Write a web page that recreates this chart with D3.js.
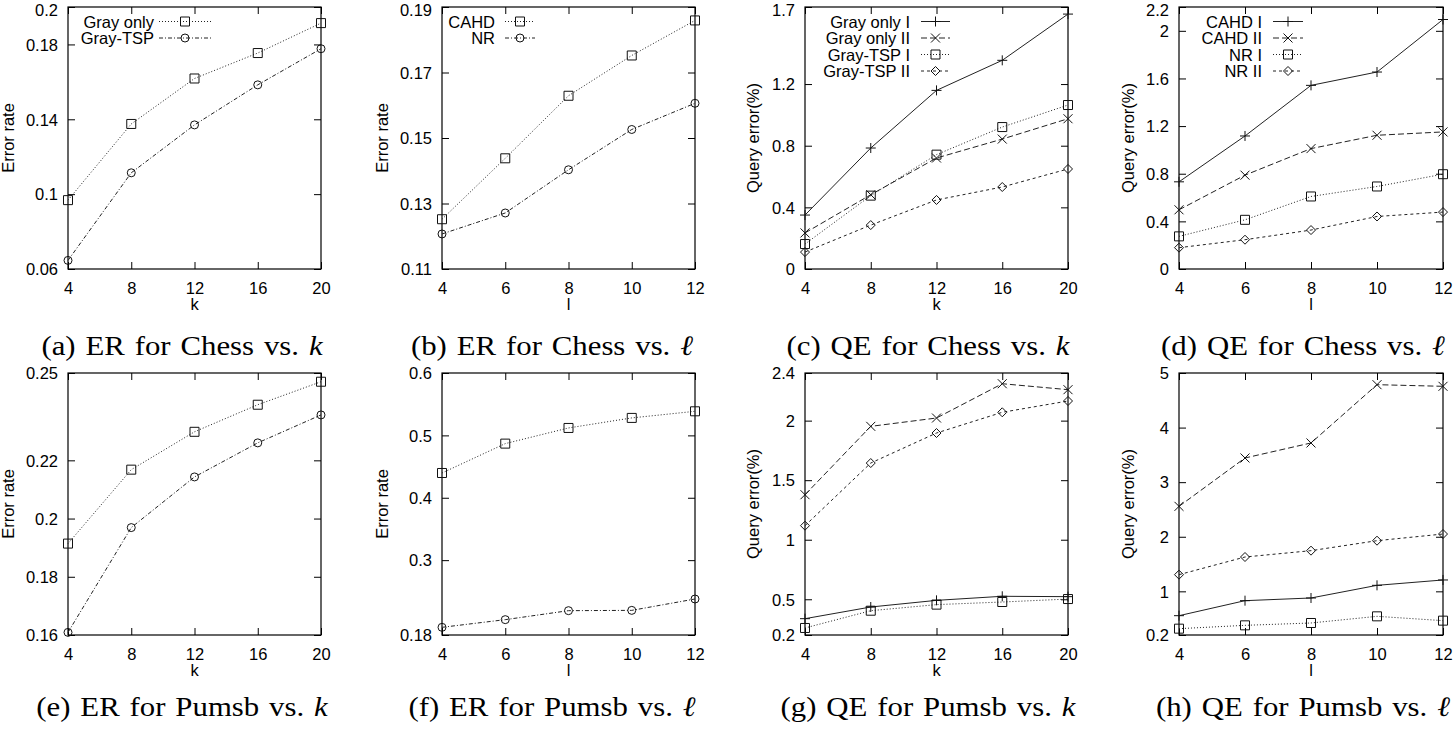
<!DOCTYPE html>
<html>
<head>
<meta charset="utf-8">
<script src="https://cdn.jsdelivr.net/npm/d3@7"></script>
<style>
	body { margin: 0; background: #fff; }
	svg { display: block; }
	.tick text, .lbl { font-family: "Liberation Sans", Arial, sans-serif; font-size: 16.5px; fill: #000; }
	.cap { font-family: "Liberation Serif", "Times New Roman", serif; font-size: 28px; word-spacing: 2px; fill: #000; }
</style>
</head>
<body>
<svg id="fig" width="1456" height="729"></svg>
<script>
'use strict';

// x values
var kValues = [4, 8, 12, 16, 20];
var lValues = [4, 6, 8, 10, 12];

// Chess: error rate
var chessErGrayOnly = [0.0968, 0.1375, 0.1618, 0.1754, 0.1914];
var chessErGrayTsp  = [0.0646, 0.1114, 0.1370, 0.1584, 0.1777];
var chessErCahd     = [0.1252, 0.1438, 0.1629, 0.1752, 0.1859];
var chessErNr       = [0.1207, 0.1271, 0.1403, 0.1526, 0.1606];

// Chess: query error (%)
var chessQeGrayOnlyI  = [0.350, 0.785, 1.159, 1.354, 1.654];
var chessQeGrayOnlyII = [0.234, 0.482, 0.720, 0.843, 0.975];
var chessQeGrayTspI   = [0.162, 0.476, 0.742, 0.921, 1.064];
var chessQeGrayTspII  = [0.110, 0.285, 0.448, 0.532, 0.649];
var chessQeCahdI      = [0.732, 1.117, 1.542, 1.654, 2.095];
var chessQeCahdII     = [0.497, 0.788, 1.011, 1.123, 1.151];
var chessQeNrI        = [0.274, 0.413, 0.609, 0.693, 0.796];
var chessQeNrII       = [0.179, 0.246, 0.327, 0.441, 0.478];

// Pumsb: error rate
var pumsbErGrayOnly = [0.1914, 0.2168, 0.2298, 0.2391, 0.2470];
var pumsbErGrayTsp  = [0.1609, 0.1969, 0.2143, 0.2260, 0.2356];
var pumsbErCahd     = [0.4397, 0.4868, 0.5119, 0.5280, 0.5386];
var pumsbErNr       = [0.1923, 0.2046, 0.2190, 0.2195, 0.2377];

// Pumsb: query error (%)
var pumsbQeGrayOnlyI  = [0.337, 0.435, 0.491, 0.525, 0.522];
var pumsbQeGrayOnlyII = [1.378, 1.952, 2.022, 2.310, 2.260];
var pumsbQeGrayTspI   = [0.259, 0.404, 0.455, 0.477, 0.502];
var pumsbQeGrayTspII  = [1.118, 1.644, 1.896, 2.070, 2.165];
var pumsbQeCahdI      = [0.554, 0.829, 0.878, 1.110, 1.208];
var pumsbQeCahdII     = [2.557, 3.443, 3.718, 4.786, 4.756];
var pumsbQeNrI        = [0.316, 0.377, 0.420, 0.542, 0.463];
var pumsbQeNrII       = [1.305, 1.629, 1.745, 1.928, 2.050];

// y tick labels (first and last give the axis range)
var ticksA = [0.06, 0.1, 0.14, 0.18, 0.2];
var ticksB = [0.11, 0.13, 0.15, 0.17, 0.19];
var ticksC = [0, 0.4, 0.8, 1.2, 1.7];
var ticksD = [0, 0.4, 0.8, 1.2, 1.6, 2, 2.2];
var ticksE = [0.16, 0.18, 0.2, 0.22, 0.25];
var ticksF = [0.18, 0.3, 0.4, 0.5, 0.6];
var ticksG = [0.2, 0.5, 1, 1.5, 2, 2.4];
var ticksH = [0.2, 1, 2, 3, 4, 5];

// series names
var namesK2 = ['Gray only', 'Gray-TSP'];
var namesL2 = ['CAHD', 'NR'];
var namesK4 = ['Gray only I', 'Gray only II', 'Gray-TSP I', 'Gray-TSP II'];
var namesL4 = ['CAHD I', 'CAHD II', 'NR I', 'NR II'];

// captions
var captionTexts = [
	'(a) ER for Chess vs. ', '(b) ER for Chess vs. ', '(c) QE for Chess vs. ', '(d) QE for Chess vs. ',
	'(e) ER for Pumsb vs. ', '(f) ER for Pumsb vs. ', '(g) QE for Pumsb vs. ', '(h) QE for Pumsb vs. '
];
var captionVars = ['k', '\u2113', 'k', '\u2113', 'k', '\u2113', 'k', '\u2113'];

var lineStyles = {
	square:  '1,2',
	circle:  '4,2,1,2',
	plus:    null,
	cross:   '6,3',
	diamond: '3,3'
};

var svg = d3.select('#fig');

var cols = [
	{ x: 68,   w: 253, capX: 182 },
	{ x: 442,  w: 253, capX: 552 },
	{ x: 805,  w: 263, capX: 928 },
	{ x: 1179, w: 264, capX: 1303 }
];
var rows = [
	{ y: 7,   h: 262, capY: 355 },
	{ y: 373, h: 262, capY: 716 }
];

var panels = [
	{ col: 0, row: 0, xs: kValues, ticks: ticksA, series: [chessErGrayOnly, chessErGrayTsp], kinds: ['square', 'circle'], names: namesK2, xTitle: 'k', yTitle: 'Error rate', yOff: 54, legend: [86, 91, 143] },
	{ col: 1, row: 0, xs: lValues, ticks: ticksB, series: [chessErCahd, chessErNr], kinds: ['square', 'circle'], names: namesL2, xTitle: 'l', yTitle: 'Error rate', yOff: 54, legend: [53, 63, 93] },
	{ col: 2, row: 0, xs: kValues, ticks: ticksC, series: [chessQeGrayOnlyI, chessQeGrayOnlyII, chessQeGrayTspI, chessQeGrayTspII], kinds: ['plus', 'cross', 'square', 'diamond'], names: namesK4, xTitle: 'k', yTitle: 'Query error(%)', yOff: 46, legend: [105, 116, 145] },
	{ col: 3, row: 0, xs: lValues, ticks: ticksD, series: [chessQeCahdI, chessQeCahdII, chessQeNrI, chessQeNrII], kinds: ['plus', 'cross', 'square', 'diamond'], names: namesL4, xTitle: 'l', yTitle: 'Query error(%)', yOff: 45, legend: [83, 94, 124] },
	{ col: 0, row: 1, xs: kValues, ticks: ticksE, series: [pumsbErGrayOnly, pumsbErGrayTsp], kinds: ['square', 'circle'], xTitle: 'k', yTitle: 'Error rate', yOff: 54 },
	{ col: 1, row: 1, xs: lValues, ticks: ticksF, series: [pumsbErCahd, pumsbErNr], kinds: ['square', 'circle'], xTitle: 'l', yTitle: 'Error rate', yOff: 54 },
	{ col: 2, row: 1, xs: kValues, ticks: ticksG, series: [pumsbQeGrayOnlyI, pumsbQeGrayOnlyII, pumsbQeGrayTspI, pumsbQeGrayTspII], kinds: ['plus', 'cross', 'square', 'diamond'], xTitle: 'k', yTitle: 'Query error(%)', yOff: 46 },
	{ col: 3, row: 1, xs: lValues, ticks: ticksH, series: [pumsbQeCahdI, pumsbQeCahdII, pumsbQeNrI, pumsbQeNrII], kinds: ['plus', 'cross', 'square', 'diamond'], xTitle: 'l', yTitle: 'Query error(%)', yOff: 45 }
];

function markerPath(kind, cx, cy){
	var p = d3.path();
	if (kind === 'square') {
		p.rect(cx - 4.5, cy - 4.5, 9, 9);
	} else if (kind === 'circle') {
		p.moveTo(cx + 4, cy);
		p.arc(cx, cy, 4, 0, 2 * Math.PI);
	} else if (kind === 'diamond') {
		p.moveTo(cx, cy - 4.5); p.lineTo(cx + 4.5, cy); p.lineTo(cx, cy + 4.5); p.lineTo(cx - 4.5, cy); p.closePath();
	} else if (kind === 'plus') {
		p.moveTo(cx - 5, cy); p.lineTo(cx + 5, cy);
		p.moveTo(cx, cy - 5); p.lineTo(cx, cy + 5);
	} else if (kind === 'cross') {
		p.moveTo(cx - 4.5, cy - 4.5); p.lineTo(cx + 4.5, cy + 4.5);
		p.moveTo(cx - 4.5, cy + 4.5); p.lineTo(cx + 4.5, cy - 4.5);
	}
	return p.toString();
}

function cleanAxis(g){
	g.select('.domain').remove();
	g.selectAll('.tick line').attr('stroke', '#000');
}

function drawPanel(pn, idx){
	var c = cols[pn.col], r = rows[pn.row];
	var x0 = c.x, y0 = r.y, w = c.w, h = r.h;
	var g = svg.append('g');

	var xS = d3.scaleLinear().domain([pn.xs[0], pn.xs[pn.xs.length - 1]]).range([x0, x0 + w]);
	var yS = d3.scaleLinear().domain([pn.ticks[0], pn.ticks[pn.ticks.length - 1]]).range([y0 + h, y0]);

	g.append('g').attr('transform', 'translate(0,' + (y0 + h) + ')')
		.call(d3.axisBottom(xS).tickValues(pn.xs).tickSize(-7).tickPadding(13).tickFormat(String))
		.call(cleanAxis);
	g.append('g').attr('transform', 'translate(0,' + y0 + ')')
		.call(d3.axisTop(xS).tickValues(pn.xs).tickSize(-7).tickFormat(''))
		.call(cleanAxis);
	g.append('g').attr('transform', 'translate(' + x0 + ',0)')
		.call(d3.axisLeft(yS).tickValues(pn.ticks).tickSize(-7).tickPadding(10).tickFormat(String))
		.call(cleanAxis)
		.selectAll('.tick text')
		// keep the topmost label of the upper row inside the page
		.attr('dy', function(d){ return yS(d) < 10 ? '0.5em' : '0.35em'; });
	g.append('g').attr('transform', 'translate(' + (x0 + w) + ',0)')
		.call(d3.axisRight(yS).tickValues(pn.ticks).tickSize(-7).tickFormat(''))
		.call(cleanAxis);

	g.append('rect')
		.attr('x', x0).attr('y', y0).attr('width', w).attr('height', h)
		.attr('fill', 'none').attr('stroke', '#000').attr('stroke-width', 1.2);

	// axis titles
	g.append('text').attr('class', 'lbl')
		.attr('x', x0 + w / 2).attr('y', y0 + h + 41)
		.attr('text-anchor', 'middle')
		.text(pn.xTitle);
	g.append('text').attr('class', 'lbl')
		.attr('transform', 'translate(' + (x0 - pn.yOff) + ',' + (y0 + h / 2) + ') rotate(-90)')
		.attr('text-anchor', 'middle')
		.text(pn.yTitle);

	var line = d3.line()
		.x(function(d, i){ return xS(pn.xs[i]); })
		.y(function(d){ return yS(d); });

	pn.series.forEach(function(vals, s){
		var kind = pn.kinds[s];
		g.append('path')
			.attr('d', line(vals))
			.attr('fill', 'none')
			.attr('stroke', '#222')
			.attr('stroke-width', 1)
			.attr('stroke-dasharray', lineStyles[kind]);
		g.selectAll(null).data(vals).enter().append('path')
			.attr('d', function(d, i){ return markerPath(kind, xS(pn.xs[i]), yS(d)); })
			.attr('fill', 'none')
			.attr('stroke', '#111')
			.attr('stroke-width', 1);
	});

	// legend
	if (pn.names) {
		pn.names.forEach(function(name, s){
			var kind = pn.kinds[s];
			var ly = y0 + 14.5 + s * 16.5;
			var a = x0 + pn.legend[1], b = x0 + pn.legend[2];
			g.append('text').attr('class', 'lbl')
				.attr('x', x0 + pn.legend[0]).attr('y', ly + 6)
				.attr('text-anchor', 'end')
				.text(name);
			g.append('line')
				.attr('x1', a).attr('x2', b).attr('y1', ly).attr('y2', ly)
				.attr('stroke', '#222').attr('stroke-width', 1)
				.attr('stroke-dasharray', lineStyles[kind]);
			g.append('path')
				.attr('d', markerPath(kind, (a + b) / 2, ly))
				.attr('fill', 'none').attr('stroke', '#111').attr('stroke-width', 1);
		});
	}

	// caption (the source is set a little wide, so stretch it)
	var cap = svg.append('text').attr('class', 'cap')
		.attr('transform', 'translate(' + c.capX + ',' + r.capY + ') scale(1.1,1)')
		.attr('text-anchor', 'middle');
	cap.append('tspan').text(captionTexts[idx]);
	cap.append('tspan').attr('font-style', 'italic').text(captionVars[idx]);
}

panels.forEach(drawPanel);
</script>
</body>
</html>
